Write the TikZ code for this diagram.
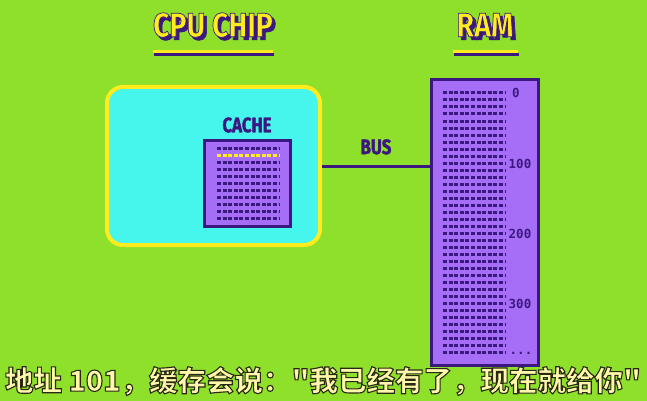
\documentclass[tikz,border=0pt]{standalone}
\usepackage{fontspec}
\usetikzlibrary{positioning,calc}
\newfontfamily\titlefont{Fira Sans}[FakeStretch=0.84,FakeBold=2]
\newfontfamily\labelfont{Fira Sans}[FakeStretch=0.8,FakeBold=1.5]
\newfontfamily\cjkfont{Noto Sans CJK SC}
\newfontfamily\ramfont{DejaVu Sans Mono}
\definecolor{bggreen}{RGB}{142,224,42}
\definecolor{chipcyan}{RGB}{70,246,236}
\definecolor{chipyellow}{RGB}{255,236,30}
\definecolor{celllilac}{RGB}{166,110,246}
\definecolor{darkpurple}{RGB}{58,24,128}
\definecolor{subyellow}{RGB}{255,248,170}
\definecolor{subdark}{RGB}{40,40,20}
% Umriss-Text ueber den Text-Render-Modus
\newcommand\outlined[2]{\special{pdf:literal direct 2 Tr #1 w #2 RG}}
\newcommand\plaintext{\special{pdf:literal direct 0 Tr}}

\begin{document}
\begin{tikzpicture}[x=1pt,y=-1pt,
  title/.style={font=\titlefont\bfseries\fontsize{34}{34}\selectfont,inner sep=0pt,text=chipyellow},
  titleshadow/.style={title,text=darkpurple},
  uline/.style={line width=3pt,chipyellow},
  ulineshadow/.style={line width=3pt,darkpurple},
  chip/.style={draw=chipyellow,line width=4pt,fill=chipcyan,rounded corners=16pt,
    minimum width=213pt,minimum height=158pt,inner sep=0pt},
  mem/.style={draw=darkpurple,line width=3pt,fill=celllilac,inner sep=0pt},
  label/.style={font=\labelfont\bfseries\fontsize{21}{21}\selectfont,text=darkpurple,inner sep=0pt},
  cell/.style={line width=3pt,darkpurple,dash pattern=on 4pt off 1.6pt},
  addr/.style={font=\ramfont\bfseries\fontsize{12.5}{12.5}\selectfont,text=darkpurple,inner sep=0pt},
  bus/.style={line width=3pt,darkpurple},
  subtitle/.style={font=\cjkfont\bfseries\fontsize{28.5}{28.5}\selectfont,inner sep=0pt,text=subyellow}]

  % Hintergrund
  \fill[bggreen] (0,0) rectangle (647,401);
  \useasboundingbox (0,0) rectangle (647,401);

  % Ueberschriften
  \node[titleshadow] at (216,28) {CPU CHIP};
  \node[title] (cputitle) at (213,25) {\outlined{0.6}{0.227 0.094 0.502}CPU CHIP\plaintext};
  \draw[ulineshadow] (154,55) -- (274,55);
  \draw[uline] (153,52) -- (273,52);

  \node[titleshadow] at (488,28) {RAM};
  \node[title] (ramtitle) at (485,25) {\outlined{0.6}{0.227 0.094 0.502}RAM\plaintext};
  \draw[ulineshadow] (454,55) -- (519,55);
  \draw[uline] (453,52) -- (518,52);

  % CPU mit Cache
  \node[chip] (cpu) at (213.5,166) {};
  \node[mem,minimum width=86pt,minimum height=86pt] (cache) at (247.5,183.5) {};
  \node[label] (cachelabel) at (247,125) {CACHE};
  \foreach \i in {0,...,10}
    \draw[cell] (217,148+7*\i) -- (280,148+7*\i);
  \draw[cell,chipyellow] (217,155) -- (280,155);

  % RAM
  \node[mem,minimum width=107pt,minimum height=286pt] (ram) at (485,222.5) {};
  \foreach \i in {0,...,37}
    \draw[cell] (443,93+7*\i) -- (505,93+7*\i);
  \node[addr] (a0) at (516,93) {0};
  \node[addr] (a100) at (520,164) {100};
  \node[addr] (a200) at (520,234) {200};
  \node[addr] (a300) at (520,304) {300};
  \node[addr] (adots) at (521,353) {...};

  % Bus
  \draw[bus] (cpu.east) -- node[label,above=10pt] (buslabel) {BUS} (ram.west |- cpu.east);

  % Untertitel
  \node[subtitle] (sub) at (323,381)
    {\outlined{1.1}{0.157 0.157 0.078}地址 101，缓存会说："我已经有了，现在就给你"\plaintext};
\end{tikzpicture}
\end{document}
